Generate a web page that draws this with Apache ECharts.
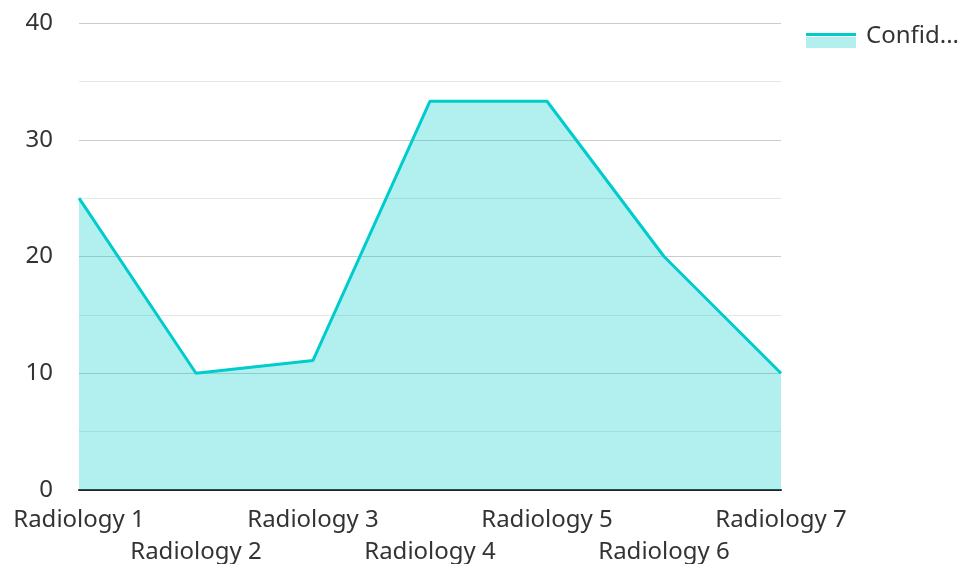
<!DOCTYPE html>
<html><head><meta charset="utf-8">
<script src="https://cdn.jsdelivr.net/npm/echarts@6/dist/echarts.min.js"></script>
<style>html,body{margin:0;padding:0;background:#fff}#c{width:963px;height:564px}</style>
</head><body><div id="c"></div>
<script>
const categories = ['Radiology 1','Radiology 2','Radiology 3','Radiology 4','Radiology 5','Radiology 6','Radiology 7'];
const seriesName = 'Confidence';
const values = [25, 10, 11.1, 33.3, 33.3, 20, 10];
const yTicks = [0, 10, 20, 30, 40];

const chart = echarts.init(document.getElementById('c'));
const font = '"Noto Sans", "Open Sans", sans-serif';
chart.setOption({
  animation: false,
  grid: {left: 79, right: 182, top: 23, bottom: 74, containLabel: false, outerBoundsMode: 'none'},
  legend: {
    left: 806, top: 24, orient: 'vertical', padding: 0,
    icon: 'rect', itemWidth: 55, itemHeight: 11, itemGap: 10,
    itemStyle: {color: 'rgba(0,0,0,0)', opacity: 0},
    textStyle: {fontFamily: font, fontSize: 24, color: '#333', width: 100, overflow: 'truncate', ellipsis: '...', padding: [0, 0, 14, 0]},
    data: [seriesName]
  },
  graphic: [
    {type: 'rect', left: 806, top: 37, shape: {width: 50, height: 11}, style: {fill: 'rgba(0,204,204,0.3)'}, z: 100},
    {type: 'rect', left: 806, top: 33, shape: {width: 50, height: 3}, style: {fill: '#00cccc'}, z: 101}
  ],
  xAxis: {
    type: 'category', data: categories, boundaryGap: false,
    axisLine: {lineStyle: {color: '#222', width: 2}},
    axisTick: {show: false},
    axisLabel: {
      interval: 0, hideOverlap: false, fontFamily: font, fontSize: 24, color: '#333', margin: 14, lineHeight: 32,
      formatter: (v, i) => (i % 2 ? '\n' + v : v)
    }
  },
  yAxis: {
    type: 'value', min: yTicks[0], max: yTicks[yTicks.length - 1], interval: 10,
    axisLine: {show: false}, axisTick: {show: false},
    axisLabel: {fontFamily: font, fontSize: 24, color: '#333', margin: 26},
    splitLine: {lineStyle: {color: '#cccccc', width: 1}},
    minorTick: {show: false, splitNumber: 2},
    minorSplitLine: {show: true, lineStyle: {color: '#e6e6e6', width: 1}}
  },
  series: [{
    name: seriesName, type: 'line', data: values, showSymbol: false, symbol: 'none',
    lineStyle: {color: '#00cccc', width: 3},
    itemStyle: {color: '#00cccc'},
    areaStyle: {color: 'rgba(0,204,204,0.3)', opacity: 1}
  }]
});
</script></body></html>
